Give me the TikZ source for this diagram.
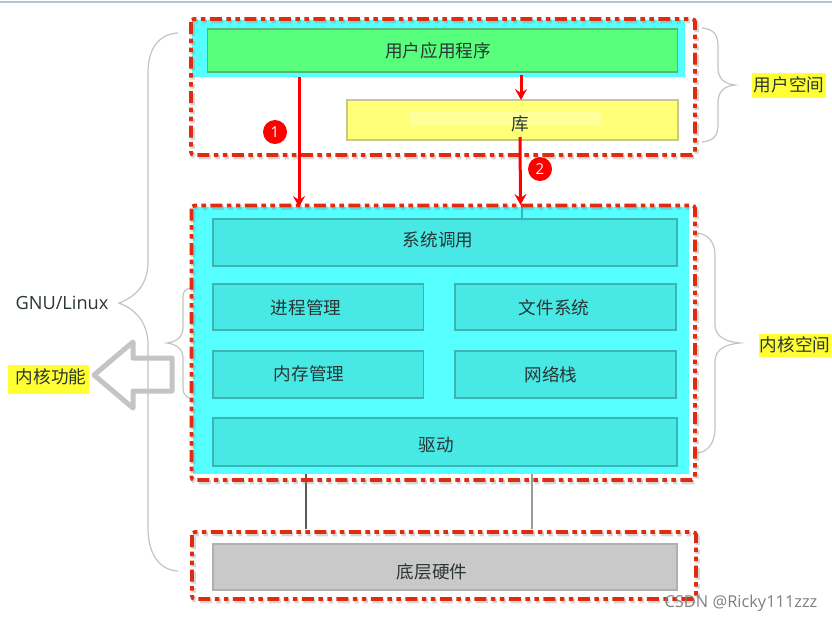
\documentclass[tikz,border=0pt]{standalone}
\usepackage{fontspec}
\setmainfont{Noto Sans CJK SC}
\newfontfamily\latinface{Open Sans}
\usetikzlibrary{arrows.meta,calc}
\definecolor{cyanbg}{HTML}{55FFFF}
\definecolor{tealbox}{HTML}{48E8E4}
\definecolor{tealedge}{HTML}{3CB5B2}
\definecolor{greenbox}{HTML}{58FF7C}
\definecolor{greenedge}{HTML}{55B57E}
\definecolor{yellowbox}{HTML}{FFFF78}
\definecolor{yellowstrip}{HTML}{FFFF99}
\definecolor{yellowedge}{HTML}{C8C88C}
\definecolor{greybox}{HTML}{C9C9C9}
\definecolor{greyedge}{HTML}{B0B0B0}
\definecolor{dashred}{HTML}{DE2C10}
\definecolor{braceGrey}{HTML}{C4C4C4}
\definecolor{hl}{HTML}{FFFF33}
\definecolor{inktext}{HTML}{2A3535}
\definecolor{topline}{HTML}{B4C4DC}
\tikzset{
  x=1pt,y=-1pt,
  plain/.style={inner sep=0pt,outer sep=0pt,font=\fontsize{17.6}{19}\selectfont,text=inktext},
  bgarea/.style={plain,fill=cyanbg},
  tealcell/.style={plain,fill=tealbox,draw=tealedge,line width=1.4pt},
  greencell/.style={plain,fill=greenbox,draw=greenedge,line width=1.4pt},
  yellowcell/.style={plain,fill=yellowbox,draw=yellowedge,line width=1.4pt},
  greycell/.style={plain,fill=greybox,draw=greyedge,line width=1.4pt},
  groupshadow/.style={draw=black!45,opacity=.35,line width=4.5pt,rounded corners=3pt,dash pattern=on 12pt off 4.5pt on 4.5pt off 4.5pt on 4.5pt off 4.5pt},
  groupbox/.style={draw=dashred,line width=3.8pt,rounded corners=3pt,dash pattern=on 12pt off 4.5pt on 4.5pt off 4.5pt on 4.5pt off 4.5pt},
  curly/.style={draw=braceGrey,line width=1.2pt},
  redarrow/.style={draw=red,line width=3pt,-{Stealth[length=11pt,width=12pt,inset=4pt]}},
  redarrowthin/.style={draw=red,line width=3pt,-{Stealth[length=11pt,width=12pt,inset=4pt]}},
  badge/.style={circle,fill=red,text=white,minimum size=24pt,inner sep=0pt,font=\latinface\fontsize{15}{15}\selectfont},
  hilite/.style={plain,fill=hl},
  link/.style={line width=1.2pt},
}
\begin{document}
\begin{tikzpicture}
\useasboundingbox (0,0) rectangle (832,622);
\fill[white] (0,0) rectangle (832,622);
\draw[draw=topline,line width=1.5pt] (0,2) -- (832,2);

% grey braces (behind)
\draw[curly] (178,33) .. controls (158,34) and (148,50) .. (148,72) -- (148,262)
  .. controls (148,285) and (135,297) .. (119,303)
  .. controls (135,309) and (148,322) .. (148,345) -- (148,528)
  .. controls (148,552) and (158,570) .. (178,571);
\draw[curly] (198,287) -- (190,288) .. controls (186,289) and (183,291) .. (183,297) -- (183,328)
  .. controls (183,338) and (175,342) .. (167,343)
  .. controls (175,344) and (183,348) .. (183,358) -- (183,388)
  .. controls (183,396) and (188,399) .. (198,400);
\draw[curly] (702,28) .. controls (713,29) and (718,34) .. (718,46) -- (718,68)
  .. controls (718,79) and (725,84) .. (735,85)
  .. controls (725,86) and (718,91) .. (718,102) -- (718,125)
  .. controls (718,136) and (713,141) .. (702,142);
\draw[curly] (697,233) .. controls (708,234) and (715,242) .. (715,255) -- (715,325)
  .. controls (715,337) and (727,342) .. (740,343)
  .. controls (727,344) and (715,349) .. (715,361) -- (715,428)
  .. controls (715,443) and (708,452) .. (697,453);

% areas
\node[bgarea,minimum width=493pt,minimum height=57pt] (userbg) at (438.5,48.5) {};
\node[bgarea,minimum width=496pt,minimum height=267pt] (kernelbg) at (441,340.5) {};

% boxes
\node[greencell,minimum width=470pt,minimum height=43pt] (app) at (442.5,50.5) {};
\node[plain] at (438,51) {用户应用程序};
\node[yellowcell,minimum width=331pt,minimum height=40pt] (lib) at (512.5,120) {};
\fill[yellowstrip] (410,111) rectangle (601,126);
\node[plain] at (520,124) {库};
\node[tealcell,minimum width=464pt,minimum height=47pt] (sys) at (445,242.5) {};
\node[plain] at (438,240) {系统调用};
\node[tealcell,minimum width=210.5pt,minimum height=46pt] (proc) at (318.25,307) {};
\node[plain] at (306,308) {进程管理};
\node[tealcell,minimum width=221pt,minimum height=46pt] (fs) at (565.5,307) {};
\node[plain] at (554,308) {文件系统};
\node[tealcell,minimum width=210.5pt,minimum height=47pt] (mem) at (318.25,374.5) {};
\node[plain] at (309,374) {内存管理};
\node[tealcell,minimum width=221pt,minimum height=47pt] (net) at (565.5,374.5) {};
\node[plain] at (551,375) {网络栈};
\node[tealcell,minimum width=464pt,minimum height=48pt] (drv) at (445,442) {};
\node[plain] at (436,445) {驱动};
\node[greycell,minimum width=464pt,minimum height=46pt] (hw) at (445,567) {};
\node[plain] at (432,572) {底层硬件};

% red groups
\coordinate (uTL) at (191,19); \coordinate (uBR) at (695,155);
\coordinate (kTL) at (191.5,205.5); \coordinate (kBR) at (695,480);
\coordinate (hTL) at (192,532); \coordinate (hBR) at (696,599);

% links between kernel and hardware
\coordinate (linkA) at ([xshift=-135pt]kernelbg.south);
\coordinate (linkB) at ([xshift=91pt]kernelbg.south);
\draw[link,draw=black!65] (linkA) -- ([yshift=3pt]linkA |- hTL);
\draw[link,draw=black!40] (linkB) -- ([yshift=3pt]linkB |- hTL);
\draw[link,draw=tealedge] (522,207) -- ([xshift=77pt]sys.north);

\draw[groupshadow] ($(uTL)+(1.5,2)$) rectangle ($(uBR)+(1.5,2)$);
\draw[groupshadow] ($(kTL)+(1.5,2)$) rectangle ($(kBR)+(1.5,2)$);
\draw[groupshadow] ($(hTL)+(1.5,2)$) rectangle ($(hBR)+(1.5,2)$);
\draw[groupbox] (uTL) rectangle (uBR);
\draw[groupbox] (kTL) rectangle (kBR);
\draw[groupbox] (hTL) rectangle (hBR);

% red arrows
\draw[redarrow] ([xshift=-139.5pt]userbg.south) -- ([xshift=-142pt]kernelbg.north);
\draw[redarrowthin] ([xshift=82.5pt]userbg.south) ++(0,-2) -- ([xshift=8.5pt]lib.north);
\draw[redarrow] ([yshift=3pt,xshift=7.5pt]lib.south) -- ([xshift=79.5pt,yshift=2pt]kernelbg.north);
\node[badge] (n1) at (275,132) {1};
\node[badge] (n2) at (540,169) {2};

% hollow arrow
\draw[draw=braceGrey,line width=5pt,line join=round]
  (94,375) -- (133,342) -- (133,358) -- (172,358) -- (172,391) -- (133,391) -- (133,408) -- cycle;

% labels
\node[plain,font=\latinface\fontsize{18.2}{20}\selectfont] (gnu) at (62,303) {GNU/Linux};
\node[hilite,minimum width=81pt,minimum height=29pt] (kf) at (48.5,379.5) {};
\node[plain] at (51,377) {内核功能};
\node[hilite,minimum width=74pt,minimum height=25pt] (us) at (789,85.5) {};
\node[plain] at (789,85) {用户空间};
\node[hilite,minimum width=72pt,minimum height=23pt] (ks) at (795,345.5) {};
\node[plain] at (795,345) {内核空间};
\node[plain,font=\latinface\fontsize{16.4}{18}\selectfont,text=black!50] (mark) at (741,603) {CSDN @Ricky111zzz};
\end{tikzpicture}
\end{document}
